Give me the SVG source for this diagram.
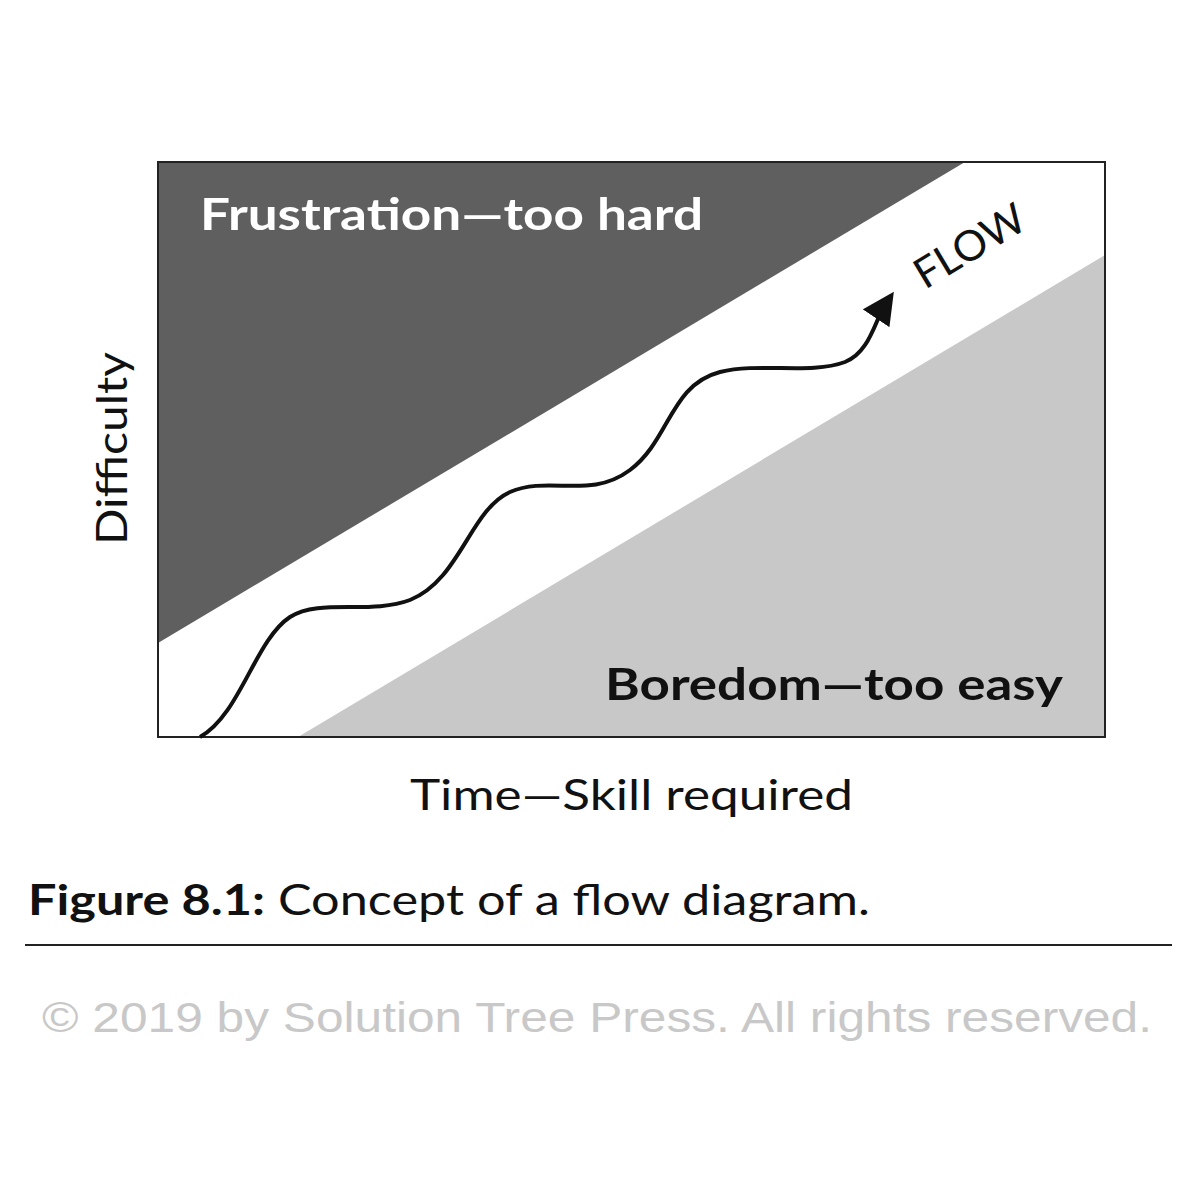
<svg xmlns="http://www.w3.org/2000/svg" width="1200" height="1200" viewBox="0 0 1200 1200">
<defs><marker id="ah" markerWidth="8" markerHeight="8" refX="4" refY="4" orient="auto" markerUnits="strokeWidth"><path d="M0,0 L8,4 L0,8 z" fill="#111"/></marker></defs>
<style>.t{font-family:"Lato","Open Sans",sans-serif}</style>
<rect width="1200" height="1200" fill="#fff"/>
<g id="chart">
<polygon points="158,162 965,162 158,643" fill="#5f5f5f"/>
<polygon points="298,737 1105,255 1105,737" fill="#c8c8c8"/>
<rect x="158" y="162" width="947" height="575" fill="none" stroke="#222" stroke-width="2"/>
</g>
<g id="connectors">
<path d="M200,737 C240,715 255,640 290,617 C320,598 370,615 410,600 C460,580 470,510 510,492 C550,475 590,500 630,470 C670,440 670,385 720,372 C760,362 810,375 845,362 C870,352 875,320 885,305" fill="none" stroke="#111" stroke-width="4" marker-end="url(#ah)"/>
</g>
<text class="t" x="200" y="230" font-size="44" font-weight="bold" fill="#fff" textLength="503" lengthAdjust="spacingAndGlyphs">Frustration—too hard</text>
<text class="t" x="605" y="700" font-size="44" font-weight="bold" fill="#111" textLength="458" lengthAdjust="spacingAndGlyphs">Boredom—too easy</text>
<text class="t" x="0" y="0" font-size="42" fill="#111" transform="translate(925,290) rotate(-31)" textLength="122" lengthAdjust="spacingAndGlyphs">FLOW</text>
<text class="t" x="0" y="0" font-size="42" fill="#111" transform="translate(127,545) rotate(-90)" textLength="193" lengthAdjust="spacingAndGlyphs">Difficulty</text>
<text class="t" x="410" y="810" font-size="42" fill="#111" textLength="443" lengthAdjust="spacingAndGlyphs">Time—Skill required</text>
<text class="t" x="28" y="915" font-size="42" fill="#111" textLength="842" lengthAdjust="spacingAndGlyphs"><tspan font-weight="bold">Figure 8.1:</tspan> Concept of a flow diagram.</text>
<line x1="25" y1="945" x2="1172" y2="945" stroke="#222" stroke-width="2"/>
<text x="42" y="1032" font-family="Liberation Sans, sans-serif" font-size="42" fill="#c8c8c8" textLength="1110" lengthAdjust="spacingAndGlyphs">© 2019 by Solution Tree Press. All rights reserved.</text>
</svg>
